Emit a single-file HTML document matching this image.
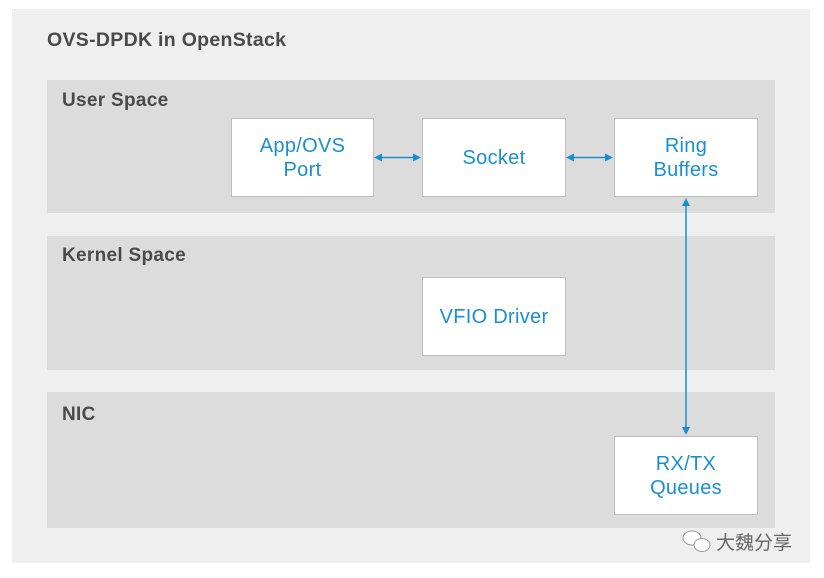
<!DOCTYPE html>
<html><head><style>
body{margin:0;width:824px;height:578px;background:#fff;position:relative;font-family:"Liberation Sans","Noto Sans CJK SC",sans-serif;overflow:hidden}
.a{position:absolute}
.outer{left:12px;top:9px;width:798px;height:554px;background:#efefef}
.band{left:47px;width:728px;background:#dcdcdc}
.lab{font-weight:bold;color:#4a4a4a;font-size:19px;letter-spacing:0.3px}
.box{background:#fff;border:1px solid #bdbdbd;box-sizing:border-box;color:#1a8fd0;font-size:20px;letter-spacing:0.3px;display:flex;align-items:center;justify-content:center;text-align:center;line-height:24px}
</style></head><body>
<div class="a outer"></div>
<div class="a lab" style="left:47px;top:29px;font-size:19.5px">OVS-DPDK in OpenStack</div>
<div class="a band" style="top:80px;height:133px"></div>
<div class="a band" style="top:236px;height:134px"></div>
<div class="a band" style="top:392px;height:136px"></div>
<div class="a lab" style="left:62px;top:90px">User Space</div>
<div class="a lab" style="left:62px;top:245px">Kernel Space</div>
<div class="a lab" style="left:62px;top:404px">NIC</div>
<div class="a box" style="left:231px;top:118px;width:143px;height:79px">App/OVS<br>Port</div>
<div class="a box" style="left:422px;top:118px;width:144px;height:79px">Socket</div>
<div class="a box" style="left:614px;top:118px;width:144px;height:79px">Ring<br>Buffers</div>
<div class="a box" style="left:422px;top:277px;width:144px;height:79px">VFIO Driver</div>
<div class="a box" style="left:614px;top:436px;width:144px;height:79px">RX/TX<br>Queues</div>
<svg class="a" style="left:0;top:0" width="824" height="578">
<g stroke="#1a8fd0" stroke-width="1.5" fill="#1a8fd0">
<line x1="380" y1="157.5" x2="415" y2="157.5"/>
<line x1="572" y1="157.5" x2="607" y2="157.5"/>
<line x1="686" y1="204" x2="686" y2="428"/>
</g>
<g fill="#1a8fd0">
<polygon points="374,157.5 382,153.5 382,161.5"/>
<polygon points="421,157.5 413,153.5 413,161.5"/>
<polygon points="566,157.5 574,153.5 574,161.5"/>
<polygon points="613,157.5 605,153.5 605,161.5"/>
<polygon points="686,198 682,206 690,206"/>
<polygon points="686,435 682,427 690,427"/>
</g>
<g fill="#fff" stroke="#999" stroke-width="1">
<ellipse cx="692" cy="538" rx="9" ry="7"/>
<ellipse cx="702" cy="545" rx="8" ry="6.5"/>
</g>
<text x="716" y="549" font-size="19" fill="#666" font-family="Noto Sans CJK SC, sans-serif">大魏分享</text>
</svg>
</body></html>
